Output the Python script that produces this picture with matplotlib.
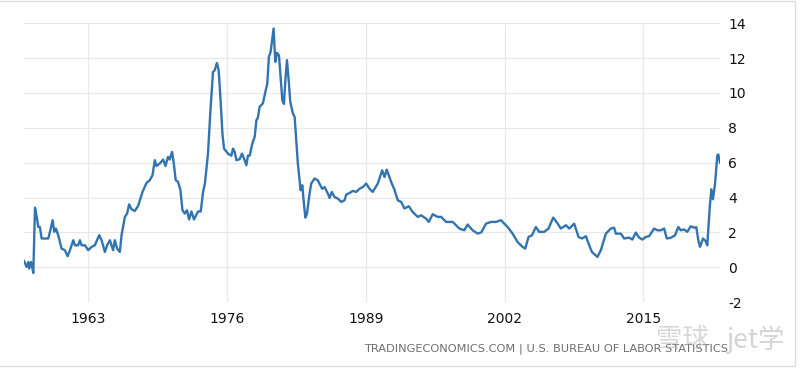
import matplotlib
matplotlib.use("Agg")
import matplotlib.pyplot as plt
import numpy as np
from matplotlib.patches import Rectangle

plt.rcParams['axes.unicode_minus'] = False

# US core inflation rate, YoY %
years = [
    1957.02, 1957.27, 1957.42, 1957.51, 1957.67, 1957.79, 1957.89, 1958.05,
    1958.21, 1958.36, 1958.51, 1958.67, 1959.29, 1959.45, 1959.70, 1959.85,
    1960.01, 1960.22, 1960.54, 1960.85, 1961.10, 1961.32, 1961.63, 1961.79,
    1962.09, 1962.25, 1962.41, 1962.72, 1963.03, 1963.35, 1963.65, 1964.06,
    1964.28, 1964.59, 1964.80, 1965.06, 1965.36, 1965.52, 1965.74, 1965.99,
    1966.15, 1966.46, 1966.67, 1966.86, 1967.08, 1967.39, 1967.70, 1967.86,
    1968.11, 1968.49, 1968.79, 1969.05, 1969.26, 1969.42, 1969.73, 1970.04,
    1970.26, 1970.50, 1970.66, 1970.88, 1971.04, 1971.22, 1971.44, 1971.66,
    1971.85, 1972.07, 1972.28, 1972.47, 1972.69, 1972.93, 1973.31, 1973.56,
    1973.78, 1973.96, 1974.24, 1974.47, 1974.71, 1974.87, 1975.08, 1975.24,
    1975.40, 1975.59, 1975.74, 1976.11, 1976.43, 1976.58, 1976.74, 1976.90,
    1977.21, 1977.42, 1977.67, 1977.83, 1977.98, 1978.14, 1978.39, 1978.61,
    1978.77, 1978.92, 1979.07, 1979.38, 1979.61, 1979.79, 1979.94, 1980.10,
    1980.38, 1980.54, 1980.69, 1980.88, 1981.04, 1981.20, 1981.35, 1981.48,
    1981.63, 1981.79, 1981.94, 1982.19, 1982.35, 1982.50, 1982.65, 1982.81,
    1982.91, 1983.07, 1983.19, 1983.35, 1983.50, 1983.75, 1983.90, 1984.21,
    1984.52, 1984.75, 1984.93, 1985.15, 1985.46, 1985.62, 1985.83, 1986.08,
    1986.39, 1986.71, 1987.02, 1987.18, 1987.49, 1987.79, 1988.11, 1988.42,
    1988.73, 1989.05, 1989.36, 1989.66, 1990.13, 1990.54, 1990.76, 1990.97,
    1991.38, 1991.69, 1992.00, 1992.32, 1992.63, 1993.03, 1993.40, 1993.87,
    1994.18, 1994.65, 1994.90, 1995.27, 1995.74, 1996.06, 1996.52, 1997.14,
    1997.77, 1998.23, 1998.54, 1999.01, 1999.48, 1999.82, 2000.26, 2000.72,
    2001.20, 2001.66, 2001.97, 2002.28, 2002.75, 2003.21, 2003.68, 2003.93,
    2004.24, 2004.56, 2004.93, 2005.24, 2005.71, 2006.11, 2006.55, 2006.86,
    2007.27, 2007.74, 2008.05, 2008.51, 2008.92, 2009.23, 2009.61, 2009.92,
    2010.17, 2010.69, 2011.01, 2011.48, 2011.94, 2012.25, 2012.41, 2012.88,
    2013.19, 2013.65, 2013.96, 2014.28, 2014.59, 2014.90, 2015.21, 2015.52,
    2015.99, 2016.30, 2016.62, 2016.93, 2017.18, 2017.55, 2017.95, 2018.26,
    2018.49, 2018.79, 2019.10, 2019.42, 2019.73, 2019.94, 2020.13, 2020.29,
    2020.57, 2020.82, 2020.97, 2021.20, 2021.35, 2021.50, 2021.69, 2021.91,
    2022.00, 2022.16,
]
rate = [
    0.36, 0.02, 0.30, -0.08, 0.30, 0.02, -0.33, 3.42,
    2.89, 2.31, 2.31, 1.65, 1.65, 2.03, 2.70, 2.03,
    2.22, 1.84, 1.07, 0.98, 0.63, 0.98, 1.55, 1.26,
    1.26, 1.55, 1.26, 1.26, 0.98, 1.17, 1.26, 1.84,
    1.55, 0.88, 1.26, 1.55, 0.98, 1.55, 1.07, 0.88,
    1.84, 2.89, 3.08, 3.61, 3.33, 3.23, 3.52, 3.84,
    4.32, 4.84, 4.99, 5.28, 6.14, 5.81, 5.95, 6.18,
    5.81, 6.33, 6.18, 6.62, 5.95, 4.99, 4.90, 4.42,
    3.27, 3.08, 3.27, 2.74, 3.20, 2.74, 3.20, 3.20,
    4.32, 4.84, 6.52, 9.00, 11.20, 11.30, 11.72, 11.30,
    9.77, 7.67, 6.81, 6.52, 6.40, 6.81, 6.62, 6.14,
    6.20, 6.52, 6.14, 5.85, 6.40, 6.40, 7.10, 7.48,
    8.43, 8.60, 9.20, 9.40, 10.06, 10.54, 12.07, 12.35,
    13.69, 11.78, 12.30, 12.16, 10.83, 9.58, 9.37, 10.73,
    11.88, 10.73, 9.49, 8.82, 8.62, 7.29, 5.95, 4.99,
    4.42, 4.70, 3.84, 2.85, 3.06, 4.23, 4.80, 5.09,
    4.99, 4.70, 4.50, 4.60, 4.23, 3.98, 4.32, 4.03,
    3.94, 3.75, 3.84, 4.17, 4.26, 4.38, 4.32, 4.50,
    4.60, 4.80, 4.50, 4.32, 4.80, 5.56, 5.18, 5.60,
    4.90, 4.45, 3.84, 3.75, 3.37, 3.50, 3.17, 2.89,
    2.98, 2.79, 2.60, 3.04, 2.89, 2.89, 2.60, 2.60,
    2.22, 2.12, 2.45, 2.12, 1.93, 2.00, 2.50, 2.60,
    2.60, 2.70, 2.50, 2.31, 1.93, 1.45, 1.17, 1.07,
    1.74, 1.83, 2.31, 2.03, 2.03, 2.22, 2.85, 2.60,
    2.22, 2.41, 2.22, 2.50, 1.74, 1.65, 1.78, 1.26,
    0.88, 0.59, 0.98, 1.93, 2.22, 2.27, 1.93, 1.93,
    1.65, 1.70, 1.59, 1.99, 1.70, 1.59, 1.74, 1.78,
    2.22, 2.12, 2.12, 2.22, 1.65, 1.69, 1.83, 2.31,
    2.12, 2.17, 2.03, 2.35, 2.27, 2.30, 1.55, 1.17,
    1.65, 1.50, 1.26, 3.44, 4.47, 3.90, 4.76, 6.43,
    6.47, 6.00,
]
xticks = [1963, 1976, 1989, 2002, 2015]
yticks = [-2, 0, 2, 4, 6, 8, 10, 12, 14]
source = "TRADINGECONOMICS.COM | U.S. BUREAU OF LABOR STATISTICS"

fig = plt.figure(figsize=(8, 3.68), dpi=100)
ax = fig.add_axes([0.03, 0.179, 0.87, 0.758])

ax.plot(years, rate, color="#3274b0", lw=1.7, solid_joinstyle="round")

ax.set_xlim(years[0], years[-1])
ax.set_ylim(-2, 14)
ax.set_xticks(xticks)
ax.set_yticks(yticks)
ax.yaxis.tick_right()
ax.tick_params(axis="both", length=0, labelsize=10, colors="#111111")
ax.tick_params(axis="y", pad=6)
ax.tick_params(axis="x", pad=7)
ax.grid(color="#e8e8e8", lw=0.9)
ax.set_axisbelow(True)
for s in ax.spines.values():
    s.set_visible(False)

fig.text(0.91, 0.053, source, ha="right", va="center", fontsize=8.2,
         color="#6e6e6e", family="DejaVu Sans")
# watermark
fig.text(0.82, 0.078, "雪球", ha="left", va="center", fontsize=19,
         color="#b0b0b0", alpha=0.5, family=["Noto Sans CJK SC", "DejaVu Sans"])
fig.text(0.908, 0.078, "jet学", ha="left", va="center", fontsize=19,
         color="#b8b8b8", alpha=0.6, family=["Noto Sans CJK SC", "DejaVu Sans"])

fig.patches.append(Rectangle((-0.01, 0.006), 1.004, 0.99, transform=fig.transFigure,
                             fill=False, ec="#dcdcdc", lw=1))

fig.savefig("out.png", dpi=100)
